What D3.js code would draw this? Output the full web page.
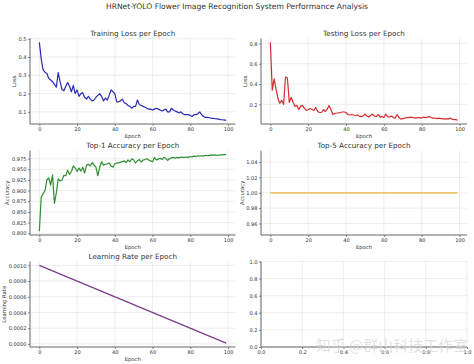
<!DOCTYPE html>
<html>
<head>
    <meta charset="utf-8">
    <script src="https://d3js.org/d3.v7.min.js"></script>
    <style>
        body { margin: 0; background: #fff; }
        svg { display: block; font-family: "DejaVu Sans", sans-serif; }
    </style>
</head>
<body>
<div id="grafik"></div>

<script>
    // values
    var epochs = d3.range(100);

    var trainLoss = [
        0.480, 0.390, 0.330, 0.317, 0.310, 0.283, 0.274, 0.265, 0.250, 0.235,
        0.315, 0.265, 0.222, 0.215, 0.240, 0.260, 0.240, 0.210, 0.245, 0.200,
        0.220, 0.185, 0.200, 0.205, 0.180, 0.170, 0.185, 0.170, 0.160, 0.165,
        0.180, 0.190, 0.200, 0.185, 0.160, 0.175, 0.165, 0.190, 0.220, 0.210,
        0.200, 0.155, 0.155, 0.160, 0.170, 0.150, 0.145, 0.135, 0.130, 0.120,
        0.130, 0.130, 0.165, 0.140, 0.135, 0.130, 0.125, 0.120, 0.115, 0.115,
        0.110, 0.115, 0.120, 0.115, 0.110, 0.105, 0.110, 0.115, 0.100, 0.100,
        0.120, 0.110, 0.105, 0.100, 0.095, 0.100, 0.090, 0.085, 0.085, 0.085,
        0.080, 0.075, 0.085, 0.085, 0.090, 0.100, 0.085, 0.075, 0.070, 0.070,
        0.068, 0.066, 0.065, 0.063, 0.062, 0.060, 0.058, 0.057, 0.055, 0.055
    ];

    var testLoss = [
        0.810, 0.340, 0.450, 0.350, 0.260, 0.210, 0.240, 0.200, 0.470, 0.460,
        0.220, 0.270, 0.220, 0.180, 0.190, 0.150, 0.180, 0.190, 0.160, 0.140,
        0.150, 0.160, 0.150, 0.140, 0.170, 0.130, 0.120, 0.120, 0.150, 0.130,
        0.150, 0.190, 0.150, 0.100, 0.110, 0.115, 0.115, 0.120, 0.125, 0.125,
        0.120, 0.100, 0.095, 0.100, 0.095, 0.090, 0.095, 0.085, 0.080, 0.085,
        0.105, 0.085, 0.075, 0.090, 0.105, 0.085, 0.080, 0.100, 0.075, 0.080,
        0.070, 0.105, 0.080, 0.075, 0.085, 0.070, 0.065, 0.100, 0.070, 0.055,
        0.060, 0.065, 0.070, 0.070, 0.075, 0.070, 0.070, 0.065, 0.070, 0.070,
        0.065, 0.075, 0.070, 0.075, 0.080, 0.070, 0.065, 0.065, 0.060, 0.065,
        0.060, 0.060, 0.055, 0.060, 0.055, 0.065, 0.055, 0.050, 0.050, 0.045
    ];

    var top1Acc = [
        0.805, 0.885, 0.893, 0.900, 0.925, 0.930, 0.913, 0.937, 0.870, 0.895,
        0.928, 0.923, 0.925, 0.936, 0.935, 0.948, 0.938, 0.945, 0.958, 0.953,
        0.945, 0.953, 0.946, 0.955, 0.941, 0.960, 0.962, 0.958, 0.966, 0.960,
        0.955, 0.935, 0.955, 0.968, 0.960, 0.962, 0.963, 0.965, 0.958, 0.955,
        0.963, 0.965, 0.965, 0.967, 0.968, 0.970, 0.966, 0.972, 0.968, 0.975,
        0.972, 0.965, 0.970, 0.973, 0.967, 0.972, 0.973, 0.975, 0.972, 0.970,
        0.968, 0.978, 0.972, 0.974, 0.976, 0.973, 0.978, 0.976, 0.971, 0.975,
        0.977, 0.978, 0.976, 0.978, 0.977, 0.979, 0.978, 0.978, 0.979, 0.978,
        0.980, 0.979, 0.981, 0.980, 0.982, 0.981, 0.982, 0.981, 0.983, 0.982,
        0.982, 0.984, 0.983, 0.984, 0.983, 0.983, 0.984, 0.984, 0.985, 0.984
    ];

    // straight lines: only the end points are needed
    var top5Epochs = [0, 99];
    var top5Acc = [1.0, 1.0];
    var lrEpochs = [0, 99];
    var lrValues = [0.0010, 0.00001];

    var epochTicks = [0, 20, 40, 60, 80, 100];
    var trainTicks = [0.1, 0.2, 0.3, 0.4, 0.5];
    var testTicks = [0.2, 0.4, 0.6, 0.8];
    var top1Ticks = [0.800, 0.825, 0.850, 0.875, 0.900, 0.925, 0.950, 0.975];
    var top5Ticks = [0.96, 0.98, 1.00, 1.02, 1.04];
    var lrTicks = [0.0000, 0.0002, 0.0004, 0.0006, 0.0008, 0.0010];
    var unitTicks = [0.0, 0.2, 0.4, 0.6, 0.8, 1.0];

    var width = 474, height = 364;

    var svg = d3.select("#grafik")
        .append("svg")
        .attr("width", width)
        .attr("height", height);

    svg.append("text")
        .attr("x", 237)
        .attr("y", 9)
        .attr("text-anchor", "middle")
        .attr("font-size", 7.6)
        .attr("fill", "#333")
        .text("HRNet-YOLO Flower Image Recognition System Performance Analysis");

    var cols = [[30, 235.5], [261, 467]];
    var rows = [[38.5, 124], [150.6, 235], [261.5, 347]];

    // matplotlib style 5% margin
    function padded(ext) {
        var m = (ext[1] - ext[0]) * 0.05;
        return [ext[0] - m, ext[1] + m];
    }

    function panel(o) {
        var c = cols[o.col], r = rows[o.row];
        var g = svg.append("g");

        var x = d3.scaleLinear().domain(o.xDomain).range(c);
        var y = d3.scaleLinear().domain(o.yDomain).range([r[1], r[0]]);

        // grid
        g.selectAll(".gx").data(o.xTicks).enter().append("line")
            .attr("x1", function(d) { return x(d); })
            .attr("x2", function(d) { return x(d); })
            .attr("y1", r[0]).attr("y2", r[1])
            .attr("stroke", "#e6e6e6").attr("stroke-width", 0.7);
        g.selectAll(".gy").data(o.yTicks).enter().append("line")
            .attr("y1", function(d) { return y(d); })
            .attr("y2", function(d) { return y(d); })
            .attr("x1", c[0]).attr("x2", c[1])
            .attr("stroke", "#e6e6e6").attr("stroke-width", 0.7);

        // line
        if (o.xs) {
            var line = d3.line()
                .x(function(d, i) { return x(o.xs[i]); })
                .y(function(d) { return y(d); });
            g.append("path")
                .datum(o.ys)
                .attr("d", line)
                .attr("fill", "none")
                .attr("stroke", o.color)
                .attr("stroke-width", o.lw || 1.2)
                .attr("stroke-linejoin", "round");
        }

        // axes
        var xAxis = d3.axisBottom(x).tickValues(o.xTicks).tickSize(2).tickPadding(1.5)
            .tickFormat(o.xFormat || d3.format("d"));
        var gx = g.append("g")
            .attr("transform", "translate(0," + r[1] + ")")
            .call(xAxis);
        var yAxis = d3.axisLeft(y).tickValues(o.yTicks).tickSize(2).tickPadding(1.5)
            .tickFormat(o.yFormat);
        var gy = g.append("g")
            .attr("transform", "translate(" + c[0] + ",0)")
            .call(yAxis);

        [gx, gy].forEach(function(a) {
            a.select(".domain").attr("stroke", "#666").attr("stroke-width", 1)
                .attr("d", a === gx ? "M" + c[0] + ",0H" + c[1] : "M0," + r[1] + "V" + r[0]);
            a.selectAll(".tick line").attr("stroke", "#666").attr("stroke-width", 0.8);
            a.selectAll(".tick text").attr("fill", "#333").attr("font-size", 5.1)
                .attr("font-family", "DejaVu Sans");
        });

        if (o.title) {
            g.append("text")
                .attr("x", (c[0] + c[1]) / 2)
                .attr("y", r[0] - 3)
                .attr("text-anchor", "middle")
                .attr("font-size", 7.2)
                .attr("fill", "#333")
                .text(o.title);
        }
        if (o.xLabel) {
            g.append("text")
                .attr("x", (c[0] + c[1]) / 2)
                .attr("y", r[1] + 14)
                .attr("text-anchor", "middle")
                .attr("font-size", 5.3)
                .attr("fill", "#333")
                .text(o.xLabel);
        }
        if (o.yLabel) {
            g.append("text")
                .attr("transform", "translate(" + (c[0] - o.yLabelOff) + "," + ((r[0] + r[1]) / 2) + ") rotate(-90)")
                .attr("text-anchor", "middle")
                .attr("font-size", 5.3)
                .attr("fill", "#333")
                .text(o.yLabel);
        }
    }

    var epochDomain = padded([0, 99]);

    panel({ col: 0, row: 0, xs: epochs, ys: trainLoss, color: "#2b2bb5",
        xDomain: epochDomain, yDomain: padded(d3.extent(trainLoss)),
        xTicks: epochTicks, yTicks: trainTicks, yFormat: d3.format(".1f"),
        title: "Training Loss per Epoch", xLabel: "Epoch", yLabel: "Loss", yLabelOff: 14.5 });

    panel({ col: 1, row: 0, xs: epochs, ys: testLoss, color: "#d42f2f",
        xDomain: epochDomain, yDomain: padded(d3.extent(testLoss)),
        xTicks: epochTicks, yTicks: testTicks, yFormat: d3.format(".1f"),
        title: "Testing Loss per Epoch", xLabel: "Epoch", yLabel: "Loss", yLabelOff: 14 });

    panel({ col: 0, row: 1, xs: epochs, ys: top1Acc, color: "#2f8f2f",
        xDomain: epochDomain, yDomain: padded(d3.extent(top1Acc)),
        xTicks: epochTicks, yTicks: top1Ticks, yFormat: d3.format(".3f"),
        title: "Top-1 Accuracy per Epoch", xLabel: "Epoch", yLabel: "Accuracy", yLabelOff: 21.5 });

    panel({ col: 1, row: 1, xs: top5Epochs, ys: top5Acc, color: "#ebc86e", lw: 1.8,
        xDomain: epochDomain, yDomain: [0.945, 1.055],
        xTicks: epochTicks, yTicks: top5Ticks, yFormat: d3.format(".2f"),
        title: "Top-5 Accuracy per Epoch", xLabel: "Epoch", yLabel: "Accuracy", yLabelOff: 17.5 });

    panel({ col: 0, row: 2, xs: lrEpochs, ys: lrValues, color: "#7d3a8c",
        xDomain: epochDomain, yDomain: padded(d3.extent(lrValues)),
        xTicks: epochTicks, yTicks: lrTicks, yFormat: d3.format(".4f"),
        title: "Learning Rate per Epoch", xLabel: "Epoch", yLabel: "Learning Rate", yLabelOff: 24.5 });

    panel({ col: 1, row: 2,
        xDomain: [0, 1], yDomain: [0, 1],
        xTicks: unitTicks, yTicks: unitTicks, xFormat: d3.format(".1f"), yFormat: d3.format(".1f") });

    // watermark
    svg.append("text")
        .attr("x", 392)
        .attr("y", 351)
        .attr("text-anchor", "middle")
        .attr("font-family", "Noto Sans CJK SC")
        .attr("font-size", 15)
        .attr("fill", "rgba(160,160,160,0.45)")
        .attr("stroke", "rgba(255,255,255,0.5)")
        .attr("stroke-width", 0.6)
        .text("知乎 @群山科技工作室");
</script>
</body>
</html>
